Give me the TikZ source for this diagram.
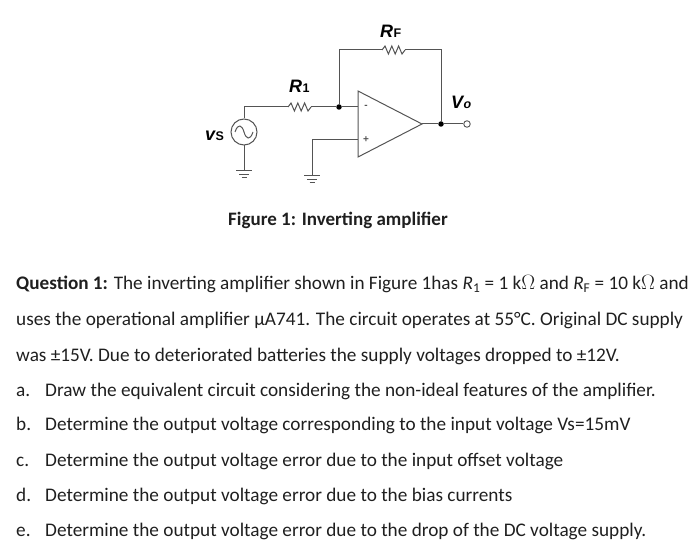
\documentclass[tikz,border=0pt]{standalone}
\usepackage{fontspec}
\setmainfont{Carlito}
\newfontfamily\arialf{Liberation Sans}
\usetikzlibrary{calc}
\definecolor{wirec}{gray}{0.33}
\definecolor{txt}{gray}{0.12}
\tikzset{
  x=1pt,y=-1pt,
  wire/.style={draw=wirec,line width=1pt,line join=miter},
  dot/.style={circle,fill=black,inner sep=0pt,minimum size=5.5pt},
  opendot/.style={circle,draw=wirec,fill=white,line width=0.9pt,inner sep=0pt,minimum size=6.5pt},
  lab/.style={font=\arialf\bfseries\itshape\fontsize{18}{18}\selectfont,text=black,inner sep=0pt,anchor=base west},
  sublab/.style={font=\arialf\bfseries\fontsize{12.5}{13}\selectfont,text=black,inner sep=0pt,anchor=base west},
  line/.style={font=\fontsize{19.25}{21}\selectfont,text=txt,inner sep=0pt,anchor=base west},
  pin/.style={font=\arialf\bfseries\fontsize{10}{10}\selectfont,text=wirec,inner sep=0pt},
  src/.style={circle,draw=wirec,line width=1pt,inner sep=0pt,minimum size=26pt},
}
\newcommand{\resistor}[2]{% left coordinate, right coordinate on a horizontal wire
  \draw[wire] (#1) -- ++(3,-4) -- ++(3.4,8) -- ++(3.4,-8) -- ++(3.4,8) -- ++(3.4,-8) -- ++(3.4,8) -- (#2);
}
\newcommand{\earth}[1]{%
  \draw[wire] ($(#1)+(-8,0)$) -- ($(#1)+(8,0)$);
  \draw[wire,line width=0.8pt] ($(#1)+(-5,3)$) -- ($(#1)+(5,3)$);
  \draw[wire,line width=0.8pt] ($(#1)+(-2.5,6)$) -- ($(#1)+(2.5,6)$);
}
\begin{document}
\begin{tikzpicture}
\useasboundingbox (0,0) rectangle (700,553);
% circuit anchors
\node[src] (vs) at (244,132) {};
\coordinate (vsTop) at (244,107);
\coordinate (gndA) at (244,171);
\coordinate (r1L) at (288,107);
\coordinate (r1R) at (311,107);
\node[dot] (inv) at (339,107) {};
\coordinate (fbTL) at (339,50);
\coordinate (rfL) at (382,50);
\coordinate (rfR) at (405,50);
\coordinate (fbTR) at (441,50);
\node[dot] (out) at (441,124) {};
\node[opendot] (term) at (467,124) {};
\coordinate (oaTop) at (358,91);
\coordinate (oaBot) at (358,157);
\coordinate (oaTip) at (422,124);
\coordinate (oaMinus) at (358,107);
\coordinate (oaPlus) at (358,140);
\coordinate (plusC) at (312,140);
\coordinate (gndB) at (312,176);
% op amp
\draw[wire] (oaTop) -- (oaTip) -- (oaBot) -- cycle;
% wires
\draw[wire] (vs.north) -- (vsTop) -- (r1L);
\resistor{r1L}{r1R}
\draw[wire] (r1R) -- (inv) -- (oaMinus);
\draw[wire] (inv) -- (fbTL) -- (rfL);
\resistor{rfL}{rfR}
\draw[wire] (rfR) -- (fbTR) -- (out);
\draw[wire] (oaTip) -- (out) -- (term);
\draw[wire] (oaPlus) -- (plusC) -- (gndB);
\draw[wire] (vs.south) -- (gndA);
\earth{gndA}
\earth{gndB}
% source wave
\draw[wire] ($(vs)+(-9,0)$) .. controls ($(vs)+(-6,-9)$) and ($(vs)+(-2,-7)$) .. (vs.center)
  .. controls ($(vs)+(2,7)$) and ($(vs)+(6,9)$) .. ($(vs)+(9,0)$);
% pins
\node[pin] (pm) at (366,107) {-};
\node[pin] (pp) at (366,140) {+};
% circuit labels
\node[lab] (lrf) at (380,38) {R};
\node[sublab] (lrfs) at (lrf.base east) {F};
\node[lab] (lr1) at (289,93) {R};
\node[sublab] (lr1s) at (lr1.base east) {1};
\node[lab] (lvo) at (451,109) {V};
\node[sublab,font=\arialf\bfseries\itshape\fontsize{12.5}{13}\selectfont] (lvos) at (lvo.base east) {o};
\node[lab] (lvs) at (205,141) {v};
\node[sublab] (lvss) at (lvs.base east) {S};
% text
\node[line,font=\bfseries\fontsize{19}{21}\selectfont,anchor=base] (cap) at (338,225) {Figure 1: Inverting amplifier};
\node[line,font=\fontsize{19.2}{21}\selectfont] (l1) at (16,289) {\textbf{Question 1:} The inverting amplifier shown in Figure 1has \textit{R}\textsubscript{1} = 1 k$\Omega$ and \textit{R}\textsubscript{F} = 10 k$\Omega$ and};
\node[line] (l2) at (16,325) {uses the operational amplifier µA741. The circuit operates at 55°C. Original DC supply};
\node[line] (l3) at (16,361) {was ±15V. Due to deteriorated batteries the supply voltages dropped to ±12V.};
\node[line] (lam) at (16,396) {a.};
\node[line] (la) at (45,396) {Draw the equivalent circuit considering the non-ideal features of the amplifier.};
\node[line] (lbm) at (16,430) {b.};
\node[line] (lb) at (45,430) {Determine the output voltage corresponding to the input voltage Vs=15mV};
\node[line] (lcm) at (16,466) {c.};
\node[line] (lc) at (45,466) {Determine the output voltage error due to the input offset voltage};
\node[line] (ldm) at (16,501) {d.};
\node[line] (ld) at (45,501) {Determine the output voltage error due to the bias currents};
\node[line] (lem) at (16,536) {e.};
\node[line] (le) at (45,536) {Determine the output voltage error due to the drop of the DC voltage supply.};
\end{tikzpicture}
\end{document}
